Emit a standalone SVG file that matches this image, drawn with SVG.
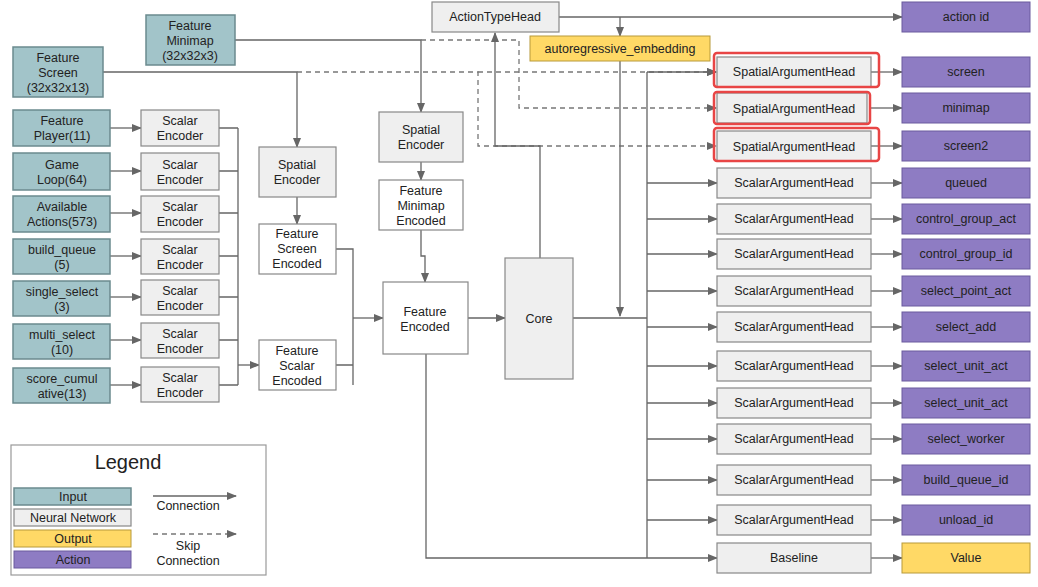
<svg xmlns="http://www.w3.org/2000/svg" width="1038" height="587" viewBox="0 0 1038 587">
<style>
text{font-family:"Liberation Sans",Arial,sans-serif;font-size:12.5px;fill:#222;text-anchor:middle}
.in{fill:#a2c4c9;stroke:#6b8a8e;stroke-width:1.5}
.nn{fill:#efefef;stroke:#888;stroke-width:1.2}
.wh{fill:#fff;stroke:#888;stroke-width:1.2}
.out{fill:#ffd966;stroke:#b89a3a;stroke-width:1}
.act{fill:#8e7cc3;stroke:#6a5a9e;stroke-width:1}
.red{fill:none;stroke:#e84545;stroke-width:2.5}
.c{fill:none;stroke:#666;stroke-width:1.3}
.d{fill:none;stroke:#777;stroke-width:1.3;stroke-dasharray:5,4}
</style>
<defs><marker id="a" markerWidth="10" markerHeight="8" refX="9" refY="4" orient="auto" markerUnits="userSpaceOnUse"><path d="M0,0L10,4L0,8z" fill="#666"/></marker></defs>
<rect width="1038" height="587" fill="#fff"/>
<g id="connectors">
<path class="c" d="M235,40H421V112" marker-end="url(#a)"/>
<path class="d" d="M421,40H519V108H716" marker-end="url(#a)"/>
<path class="c" d="M103,72H297V147" marker-end="url(#a)"/>
<path class="d" d="M297,72H478V146H716" marker-end="url(#a)"/>
<path class="d" d="M478,72H716" marker-end="url(#a)"/>
<path class="c" d="M297,197V224" marker-end="url(#a)"/>
<path class="c" d="M421,162V180" marker-end="url(#a)"/>
<path class="c" d="M421,230V256H425V282" marker-end="url(#a)"/>
<path class="c" d="M336,249H353V385M336,365H353" />
<path class="c" d="M353,318H383" marker-end="url(#a)"/>
<path class="c" d="M468,318H505" marker-end="url(#a)"/>
<path class="c" d="M540,258V146H495V33" marker-end="url(#a)"/>
<path class="c" d="M559,17H902" marker-end="url(#a)"/>
<path class="c" d="M620,17V36" marker-end="url(#a)"/>
<path class="c" d="M620,61V316" marker-end="url(#a)"/>
<path class="c" d="M573,318H647M647,72V558"/>
<path class="c" d="M426,354V558H717" marker-end="url(#a)"/>
<g marker-end="url(#a)">
<path class="c" d="M647,72H716"/><path class="c" d="M647,183H717"/><path class="c" d="M647,219H717"/><path class="c" d="M647,254H717"/><path class="c" d="M647,291H717"/><path class="c" d="M647,327H717"/><path class="c" d="M647,366H717"/><path class="c" d="M647,403H717"/><path class="c" d="M647,439H717"/><path class="c" d="M647,480H717"/><path class="c" d="M647,520H717"/>
<path class="c" d="M871,72H902"/><path class="c" d="M871,108H902"/><path class="c" d="M871,146H902"/><path class="c" d="M871,183H902"/><path class="c" d="M871,219H902"/><path class="c" d="M871,254H902"/><path class="c" d="M871,291H902"/><path class="c" d="M871,327H902"/><path class="c" d="M871,366H902"/><path class="c" d="M871,403H902"/><path class="c" d="M871,439H902"/><path class="c" d="M871,480H902"/><path class="c" d="M871,520H902"/><path class="c" d="M871,558H902"/>
<path class="c" d="M110,128H141"/><path class="c" d="M110,171H141"/><path class="c" d="M110,213H141"/><path class="c" d="M110,256H141"/><path class="c" d="M110,297H141"/><path class="c" d="M110,340H141"/><path class="c" d="M110,385H141"/>
<path class="c" d="M238,365H259"/>
</g>
<path class="c" d="M219,128H238M219,171H238M219,213H238M219,256H238M219,297H238M219,340H238M219,385H238M238,128V385"/>
</g>
<g id="feature-minimap"><rect class="in" x="146" y="15" width="89" height="50"/><text x="190" y="30">Feature</text><text x="190" y="45">Minimap</text><text x="190" y="60">(32x32x3)</text></g>
<g id="feature-screen"><rect class="in" x="13" y="47" width="90" height="50"/><text x="58" y="62">Feature</text><text x="58" y="77">Screen</text><text x="58" y="92">(32x32x13)</text></g>
<g id="inputs">
<rect class="in" x="13" y="110" width="97" height="36"/><text x="62" y="125">Feature</text><text x="62" y="140">Player(11)</text>
<rect class="in" x="13" y="153" width="97" height="37"/><text x="62" y="169">Game</text><text x="62" y="184">Loop(64)</text>
<rect class="in" x="13" y="196" width="97" height="36"/><text x="62" y="211">Available</text><text x="62" y="226">Actions(573)</text>
<rect class="in" x="13" y="239" width="97" height="35"/><text x="62" y="254">build_queue</text><text x="62" y="269">(5)</text>
<rect class="in" x="13" y="281" width="97" height="35"/><text x="62" y="296">single_select</text><text x="62" y="311">(3)</text>
<rect class="in" x="13" y="324" width="97" height="35"/><text x="62" y="339">multi_select</text><text x="62" y="354">(10)</text>
<rect class="in" x="13" y="368" width="97" height="35"/><text x="62" y="383">score_cumul</text><text x="62" y="398">ative(13)</text>
</g>
<g id="scalar-encoders">
<rect class="nn" x="141" y="110" width="78" height="36"/><text x="180" y="125">Scalar</text><text x="180" y="140">Encoder</text>
<rect class="nn" x="141" y="153" width="78" height="37"/><text x="180" y="169">Scalar</text><text x="180" y="184">Encoder</text>
<rect class="nn" x="141" y="196" width="78" height="36"/><text x="180" y="211">Scalar</text><text x="180" y="226">Encoder</text>
<rect class="nn" x="141" y="239" width="78" height="35"/><text x="180" y="254">Scalar</text><text x="180" y="269">Encoder</text>
<rect class="nn" x="141" y="280" width="78" height="35"/><text x="180" y="295">Scalar</text><text x="180" y="310">Encoder</text>
<rect class="nn" x="141" y="323" width="78" height="35"/><text x="180" y="338">Scalar</text><text x="180" y="353">Encoder</text>
<rect class="nn" x="141" y="367" width="78" height="35"/><text x="180" y="382">Scalar</text><text x="180" y="397">Encoder</text>
</g>
<g id="spatial-encoder-screen"><rect class="nn" x="259" y="147" width="77" height="50"/><text x="297" y="169">Spatial</text><text x="297" y="184">Encoder</text></g>
<g id="feature-screen-encoded"><rect class="wh" x="259" y="224" width="77" height="50"/><text x="297" y="238">Feature</text><text x="297" y="253">Screen</text><text x="297" y="268">Encoded</text></g>
<g id="feature-scalar-encoded"><rect class="wh" x="259" y="340" width="77" height="50"/><text x="297" y="355">Feature</text><text x="297" y="370">Scalar</text><text x="297" y="385">Encoded</text></g>
<g id="spatial-encoder-minimap"><rect class="nn" x="379" y="112" width="84" height="50"/><text x="421" y="134">Spatial</text><text x="421" y="149">Encoder</text></g>
<g id="feature-minimap-encoded"><rect class="wh" x="379" y="180" width="84" height="50"/><text x="421" y="195">Feature</text><text x="421" y="210">Minimap</text><text x="421" y="225">Encoded</text></g>
<g id="feature-encoded"><rect class="wh" x="383" y="282" width="85" height="72"/><text x="425" y="316">Feature</text><text x="425" y="331">Encoded</text></g>
<g id="core"><rect class="nn" x="505" y="258" width="68" height="121"/><text x="539" y="323">Core</text></g>
<g id="action-type-head"><rect class="nn" x="432" y="2" width="127" height="30"/><text x="495" y="21">ActionTypeHead</text></g>
<g id="autoregressive"><rect class="out" x="530" y="36" width="180" height="25"/><text x="620" y="53">autoregressive_embedding</text></g>
<g id="heads">
<rect class="nn" x="717" y="57" width="154" height="30"/><text x="794" y="76">SpatialArgumentHead</text>
<rect class="nn" x="717" y="93" width="150" height="30"/><text x="794" y="113">SpatialArgumentHead</text>
<rect class="nn" x="717" y="131" width="154" height="30"/><text x="794" y="151">SpatialArgumentHead</text>
<rect class="red" x="714" y="53" width="165" height="34" rx="3"/>
<rect class="red" x="714" y="92" width="156" height="32" rx="3"/>
<rect class="red" x="714" y="128" width="165" height="33" rx="3"/>
<rect class="nn" x="717" y="168" width="154" height="30"/><text x="794" y="187">ScalarArgumentHead</text>
<rect class="nn" x="717" y="204" width="154" height="30"/><text x="794" y="223">ScalarArgumentHead</text>
<rect class="nn" x="717" y="239" width="154" height="30"/><text x="794" y="258">ScalarArgumentHead</text>
<rect class="nn" x="717" y="276" width="154" height="30"/><text x="794" y="295">ScalarArgumentHead</text>
<rect class="nn" x="717" y="312" width="154" height="30"/><text x="794" y="331">ScalarArgumentHead</text>
<rect class="nn" x="717" y="351" width="154" height="30"/><text x="794" y="370">ScalarArgumentHead</text>
<rect class="nn" x="717" y="388" width="154" height="30"/><text x="794" y="407">ScalarArgumentHead</text>
<rect class="nn" x="717" y="424" width="154" height="30"/><text x="794" y="443">ScalarArgumentHead</text>
<rect class="nn" x="717" y="465" width="154" height="30"/><text x="794" y="484">ScalarArgumentHead</text>
<rect class="nn" x="717" y="505" width="154" height="30"/><text x="794" y="524">ScalarArgumentHead</text>
<rect class="nn" x="717" y="543" width="154" height="30"/><text x="794" y="562">Baseline</text>
</g>
<g id="actions">
<rect class="act" x="902" y="2" width="128" height="30"/><text x="966" y="21">action id</text>
<rect class="act" x="902" y="57" width="128" height="30"/><text x="966" y="76">screen</text>
<rect class="act" x="902" y="93" width="128" height="30"/><text x="966" y="112">minimap</text>
<rect class="act" x="902" y="131" width="128" height="30"/><text x="966" y="150">screen2</text>
<rect class="act" x="902" y="168" width="128" height="30"/><text x="966" y="187">queued</text>
<rect class="act" x="902" y="204" width="128" height="30"/><text x="966" y="223">control_group_act</text>
<rect class="act" x="902" y="239" width="128" height="30"/><text x="966" y="258">control_group_id</text>
<rect class="act" x="902" y="276" width="128" height="30"/><text x="966" y="295">select_point_act</text>
<rect class="act" x="902" y="312" width="128" height="30"/><text x="966" y="331">select_add</text>
<rect class="act" x="902" y="351" width="128" height="30"/><text x="966" y="370">select_unit_act</text>
<rect class="act" x="902" y="388" width="128" height="30"/><text x="966" y="407">select_unit_act</text>
<rect class="act" x="902" y="424" width="128" height="30"/><text x="966" y="443">select_worker</text>
<rect class="act" x="902" y="465" width="128" height="30"/><text x="966" y="484">build_queue_id</text>
<rect class="act" x="902" y="505" width="128" height="30"/><text x="966" y="524">unload_id</text>
<rect class="out" x="902" y="543" width="128" height="30"/><text x="966" y="562">Value</text>
</g>
<g id="legend">
<rect x="11" y="445" width="255" height="130" fill="#fff" stroke="#999" stroke-width="1.2"/>
<text x="128" y="469" style="font-size:20px">Legend</text>
<rect class="in" x="14" y="488" width="117" height="17"/><text x="73" y="501">Input</text>
<rect class="nn" x="14" y="509" width="117" height="17"/><text x="73" y="522">Neural Network</text>
<rect class="out" x="14" y="530" width="117" height="17"/><text x="73" y="543">Output</text>
<rect class="act" x="14" y="551" width="117" height="17"/><text x="73" y="564">Action</text>
<path class="c" d="M153,496H236" marker-end="url(#a)"/><text x="188" y="510">Connection</text>
<path class="d" d="M153,534H236" marker-end="url(#a)"/><text x="188" y="550">Skip</text><text x="188" y="565">Connection</text>
</g>
</svg>
